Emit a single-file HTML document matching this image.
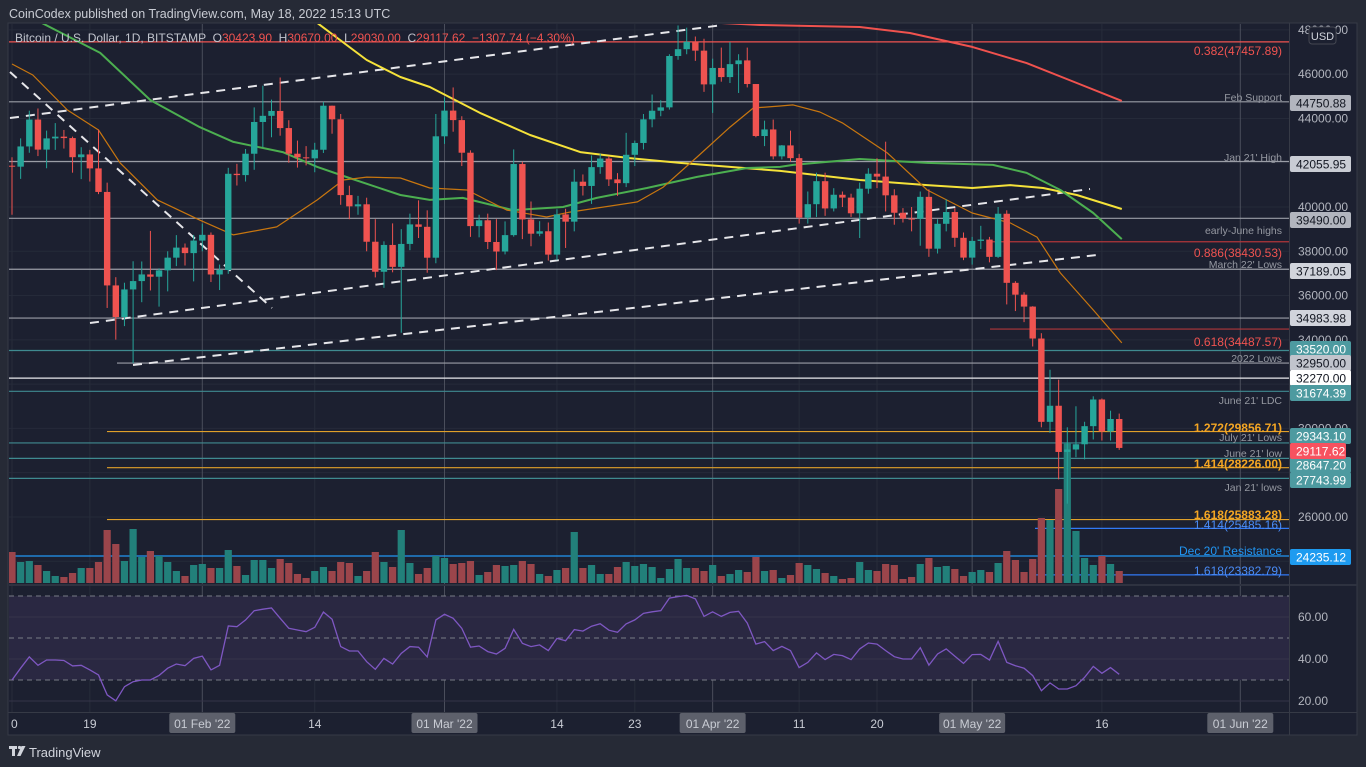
<!DOCTYPE html>
<html><head><meta charset="utf-8"><title>BTCUSD chart</title>
<style>
html,body{margin:0;padding:0;background:#262a36;width:1366px;height:767px;overflow:hidden;font-family:"Liberation Sans",sans-serif}
svg{display:block}
text{font-family:"Liberation Sans",sans-serif}
</style></head>
<body>
<svg id="chart" width="1366" height="767" viewBox="0 0 1366 767" xmlns="http://www.w3.org/2000/svg">
  <rect x="0" y="0" width="1366" height="767" fill="#262a36"/>
  <text x="9" y="18" font-size="12.5" fill="#c9ccd4">CoinCodex published on TradingView.com, May 18, 2022 15:13 UTC</text>
  <rect x="8" y="23" width="1349" height="712" fill="#1c2030" stroke="#363a46"/>
  <defs>
    <clipPath id="mainClip"><rect x="9" y="24" width="1280" height="560"/></clipPath>
    <clipPath id="rsiClip"><rect x="9" y="585" width="1280" height="127"/></clipPath>
  </defs>
  <g id="grid"></g>
  <g id="levels" clip-path="url(#mainClip)"></g>
  <g id="volume" clip-path="url(#mainClip)"></g>
  <g id="trend" clip-path="url(#mainClip)"></g>
  <g id="mas" clip-path="url(#mainClip)"></g>
  <g id="candles" clip-path="url(#mainClip)"></g>
  <g id="rsi" clip-path="url(#rsiClip)"></g>
  <g id="axis"></g>
  <g id="taxis"></g>
  <g font-size="12">
    <text x="15" y="42" fill="#c1c4cd" style="white-space:pre">Bitcoin / U.S. Dollar, 1D, BITSTAMP  O<tspan fill="#ef5350">30423.90</tspan>  H<tspan fill="#ef5350">30670.00</tspan>  L<tspan fill="#ef5350">29030.00</tspan>  C<tspan fill="#ef5350">29117.62</tspan>  <tspan fill="#ef5350">−1307.74 (−4.30%)</tspan></text>
  </g>
  <g>
    <rect x="9" y="746" width="8" height="3" fill="#d1d4dc"/><rect x="12" y="746" width="3" height="10" fill="#d1d4dc"/>
    <circle cx="19.5" cy="747.5" r="1.6" fill="#d1d4dc"/><polygon points="21.5,746 25.5,746 20.5,756 17,756" fill="#d1d4dc"/>
    <text x="29" y="757" font-size="13" fill="#d1d4dc">TradingView</text>
  </g>
  <g>
    <rect x="1309" y="27" width="27" height="17" rx="3" fill="#1c2030" stroke="#434651"/>
    <text x="1322.5" y="40" font-size="11" fill="#d1d4dc" text-anchor="middle">USD</text>
  </g>
</svg>
<script>
const opens=[41865,41822,42735,43950,42592,43099,43177,43113,42250,42375,41744,40680,36458,35030,36276,36654,36954,36852,37138,37712,38166,37917,38483,38743,36952,37154,41500,41441,42406,43840,44118,44338,43565,42407,42244,42197,42586,44575,43961,40538,40030,40122,38431,37075,38286,37296,38332,39214,39105,37710,43193,44354,43925,42452,39137,39400,38420,37989,38730,41941,39439,38794,38904,37849,39666,39338,41143,40951,41801,42190,41247,41077,42358,42892,43960,44348,44500,46820,47128,47465,47062,45538,46281,45868,46453,46622,45555,43206,43503,42287,42782,42207,39521,40127,41166,39935,40553,40424,39716,40826,41503,41374,40527,39740,39478,39469,40458,38117,39241,39773,38609,37714,38469,38529,37748,39695,36575,36040,35502,34059,30296,31023,28936,29047,29283,30101,31305,29862,30424];
const highs=[42248,43100,44350,44450,43450,43790,43480,43180,42700,42580,43500,41100,36830,36580,37550,37540,38920,37230,38000,38730,38350,38740,39250,38850,37400,41770,41950,42620,44500,45480,44850,45850,43920,43000,42750,42900,44750,44580,44200,40960,40500,40420,39450,38450,39260,39000,39700,40300,39850,44200,44950,45400,44100,42560,39650,39700,39450,39350,42600,42050,40250,39360,39300,39900,39920,41700,41470,42330,42400,42300,41530,43350,43000,44200,45080,44820,46900,48200,48100,47700,47600,46700,47200,47450,46900,47200,45550,43900,43950,42800,43450,42400,40700,41550,41550,40850,40700,40600,41100,41750,42200,42950,40800,39950,40000,40700,40800,39450,40350,39950,38850,38650,39150,38650,40000,39850,36650,36150,35520,34300,32650,32200,30050,31000,30300,31450,31350,30800,30670];
const lows=[39650,41270,42450,42300,41750,42580,42640,41550,41260,41150,40580,35440,34010,34620,32950,35700,36230,35500,36190,37330,37360,36640,38000,36610,36250,36980,40970,41150,41680,42700,43150,43220,42000,41780,41880,41570,42440,43310,40100,39450,39650,38000,36820,36350,37050,34320,38050,38600,37030,37460,42850,43400,41850,38650,38630,38100,37150,37860,38660,38550,38230,38680,37580,37600,38150,38900,40520,40140,41500,40950,40500,40900,41850,42600,43600,44100,44400,46650,46900,46600,45200,44250,45660,45600,45150,45400,43150,42750,42150,42150,42050,39250,39250,39550,39600,39800,40000,39550,38600,40600,40850,39800,39200,39300,38900,38250,37750,37900,38900,38200,37600,37400,38100,37500,37700,35600,35300,34800,33700,30050,29800,27700,26600,28700,28600,29500,29450,29450,29030];
const closes=[41822,42735,43950,42592,43099,43177,43113,42250,42375,41744,40680,36458,35030,36276,36654,36954,36852,37138,37712,38166,37917,38483,38743,36952,37154,41500,41441,42406,43840,44118,44338,43565,42407,42244,42197,42586,44575,43961,40538,40030,40122,38431,37075,38286,37296,38332,39214,39105,37710,43193,44354,43925,42452,39137,39400,38420,37989,38730,41941,39439,38794,38904,37849,39666,39338,41143,40951,41801,42190,41247,41077,42358,42892,43960,44348,44500,46820,47128,47465,47062,45538,46281,45868,46453,46622,45555,43206,43503,42287,42782,42207,39521,40127,41166,39935,40553,40424,39716,40826,41503,41374,40527,39740,39478,39469,40458,38117,39241,39773,38609,37714,38469,38529,37748,39695,36575,36040,35502,34059,30296,31023,28936,29047,29283,30101,31305,29862,30425,29118];
const volumes=[31,21,22,18,12,7,6,10,15,15,21,53,39,22,54,26,32,27,21,12,7,18,19,15,15,33,17,8,23,23,15,24,20,9,5,12,16,12,21,20,7,12,31,21,16,53,20,9,15,27,25,19,20,22,8,11,18,17,18,22,19,9,7,13,15,51,15,18,9,9,16,21,17,19,16,5,14,24,15,15,12,18,7,9,13,11,26,12,13,5,8,20,18,14,10,7,4,5,21,13,12,19,18,4,6,19,25,16,17,14,7,11,13,11,20,32,23,11,24,65,63,94,140,52,25,18,27,19,12];
const rsiValues=[30,35.6,41,37,39.5,39.5,39.3,36.7,37,34.8,32.4,22.9,20.1,26.8,29.2,30,30,32.2,35.6,37.6,36.8,40.3,41.4,34.8,37,55.7,55.4,58.6,63,63.7,64.3,59.4,54.6,53.8,53,55.1,62.4,58.9,45.9,43.8,43.8,38.7,35.1,40.3,37.6,42.7,45.9,45.6,41,58.6,61.3,59.4,54.6,45.6,46.2,43.5,42.4,45.1,54.1,47.5,45.9,46.7,44,49.8,48.7,54,53.3,55.6,56.8,53.7,52.7,56.7,58.6,61.7,62.5,63,69,69.7,70.3,68.6,60.3,62.5,60.3,62.2,62.7,57.1,47.1,48.3,44,46,44,35.9,38.4,42.9,39.7,42.2,41.6,39.7,44.8,47.6,47.1,44,41.1,40,40,45.4,37.1,42.4,44.8,41.3,37.9,42.1,42.2,39.5,48.4,38.4,36.8,35.6,32.1,24.9,28.6,25.7,25.7,27.3,31.3,36.5,33.2,35.9,32.7];
const ma20Days=[0,2.4,6.4,10,12.5,16.8,21.7,25.6,30.6,35.3,38.3,41,44.9,48.3,52.6,57.2,61.8,64.5,72.3,75.3,79.2,83,85.7,88.8,90.3,93.4,96,101.2,105.8,111,115.4,118.5,121.2,125,128.3];
const ma20Vals=[46460,45960,44380,43480,41990,40320,39410,38740,39100,40320,41220,41350,41310,40860,40770,39860,39550,39770,40230,40900,42260,43610,44470,44560,44610,44290,43800,42440,40770,39730,39280,38640,37020,35350,33860];
const ma50Days=[3,10.2,16,21.7,25.6,31.3,35.3,39,44.9,48.3,52.1,57.9,63.7,67.6,73.4,79.2,85,88.8,90.3,98,105.8,113.4,117.3,121.2,125,128.3];
const ma50Vals=[48400,46960,44830,43610,42940,42480,41810,41310,40540,40320,40410,39860,40000,40410,40860,41360,41760,41810,41900,42170,41990,41900,41540,40770,39730,38550];
const ma100Days=[33,35.3,41,44.9,48.3,54.1,59.9,65.7,71.4,77.2,83,88.8,98,105.8,111,115.4,119.2,123.1,128.3];
const ma100Vals=[48600,48310,46640,45870,45420,44250,43250,42480,42210,41990,41810,41630,41220,40990,40860,40990,40860,40540,39910];
const ma200Days=[66,80,86.5,98,103.8,111,117.3,123.1,128.3];
const ma200Vals=[48450,48350,48220,48130,47860,47230,46500,45600,44790];
const priceTicks=[24000,26000,28000,30000,32000,34000,36000,38000,40000,42000,44000,46000,48000];
const rsiTicks=[20,40,60];
const timeLabels=["10","19","01 Feb '22","14","01 Mar '22","14","23","01 Apr '22","11","20","01 May '22","16","01 Jun '22"];
const timeLabelDays=[0,9,22,35,50,63,72,81,91,100,111,126,142];

const NS='http://www.w3.org/2000/svg';
function X(i){return 12+i*8.65;}
function Y(p){return 207+(40000-p)*0.02214;}
function RY(v){return 680-(v-30)*2.1;}
function mk(parent,tag,attrs,txt){const e=document.createElementNS(NS,tag);for(const k in attrs)e.setAttribute(k,attrs[k]);if(txt!==undefined)e.textContent=txt;parent.appendChild(e);return e;}
const G=id=>document.getElementById(id);

const grid=G('grid');
priceTicks.forEach(p=>{const l=mk(grid,'line',{x1:9,x2:1289,y1:Y(p),y2:Y(p),stroke:'#252a39','stroke-width':1});

});
timeLabelDays.forEach((d,k)=>{const month=timeLabels[k].length>3;const l=mk(grid,'line',{x1:X(d),x2:X(d),y1:24,y2:712,stroke:month?'#4a4e5b':'#272c3a','stroke-width':1});

});
const sep=mk(grid,'line',{x1:9,x2:1357,y1:585,y2:585,stroke:'#2e3240','stroke-width':2});


const ab=mk(grid,'line',{x1:1289.5,x2:1289.5,y1:23,y2:735,stroke:'#363a46'});


const tb=mk(grid,'line',{x1:8,x2:1357,y1:712.5,y2:712.5,stroke:'#363a46'});



const axis=G('axis');
priceTicks.forEach(p=>{const t=mk(axis,'text',{x:1298,y:Y(p)+4,'font-size':12,fill:'#b2b5be'},p.toFixed(2));

});
rsiTicks.forEach(v=>{const t=mk(axis,'text',{x:1298,y:RY(v)+4,'font-size':12,fill:'#b2b5be'},v.toFixed(2));

});

const lv=G('levels');
const levels=[
 {p:47457.89,c:'#f05350',x0:9,label:'0.382(47457.89)',lc:'#f05350',ly:51,box:null},
 {p:44750.88,c:'#9a9da6',x0:9,label:'Feb Support',lc:'#9598a1',ly:97,box:'#b2b5be',bt:'#131722',by:103},
 {p:42055.95,c:'#9a9da6',x0:9,label:"Jan 21' High",lc:'#9598a1',ly:157,box:'#c9ccd4',bt:'#131722',by:164},
 {p:39490,c:'#9a9da6',x0:9,label:'early-June highs',lc:'#9598a1',ly:230,box:'#b2b5be',bt:'#131722',by:220},
 {p:38430.53,c:'#b0363a',x0:990,label:'0.886(38430.53)',lc:'#f05350',ly:253,box:null},
 {p:37189.05,c:'#9a9da6',x0:9,label:"March 22' Lows",lc:'#9598a1',ly:264,box:'#d1d4dc',bt:'#131722',by:271},
 {p:34983.98,c:'#9a9da6',x0:9,label:'',box:'#d1d4dc',bt:'#131722',by:318},
 {p:34487.57,c:'#b0363a',x0:990,label:'0.618(34487.57)',lc:'#f05350',ly:342,box:null},
 {p:33520,c:'#3f8a90',x0:9,label:'',box:'#4d9aa0',bt:'#ffffff',by:349},
 {p:32950,c:'#9a9da6',x0:117,label:'2022 Lows',lc:'#9598a1',ly:358,box:'#c1c4cc',bt:'#131722',by:363},
 {p:32270,c:'#e8e8ec',x0:9,label:'',box:'#ffffff',bt:'#131722',by:378},
 {p:31674.39,c:'#3f8a90',x0:9,label:"June 21' LDC",lc:'#9598a1',ly:400,box:'#4d9aa0',bt:'#ffffff',by:393},
 {p:29856.71,c:'#e0a02a',x0:107,label:'1.272(29856.71)',lc:'#f5a623',ly:428,box:null,bold:true},
 {p:29343.1,c:'#3f8a90',x0:9,label:"July 21' Lows",lc:'#9598a1',ly:437,box:'#4d9aa0',bt:'#ffffff',by:436},
 {p:28647.2,c:'#3f8a90',x0:9,label:"June 21' low",lc:'#9598a1',ly:453,box:'#4d9aa0',bt:'#ffffff',by:465},
 {p:28226,c:'#e0a02a',x0:107,label:'1.414(28226.00)',lc:'#f5a623',ly:464,box:null,bold:true},
 {p:27743.99,c:'#3f8a90',x0:9,label:"Jan 21' lows",lc:'#9598a1',ly:487,box:'#4d9aa0',bt:'#ffffff',by:480},
 {p:25883.28,c:'#e0a02a',x0:107,label:'1.618(25883.28)',lc:'#f5a623',ly:515,box:null,bold:true},
 {p:25485.16,c:'#3179f5',x0:1035,label:'1.414(25485.16)',lc:'#4a8cf7',ly:525,box:null},
 {p:24235.12,c:'#2196f3',x0:9,label:"Dec 20' Resistance",lc:'#2196f3',ly:551,box:'#1e9bf0',bt:'#ffffff',by:557},
 {p:23382.79,c:'#3179f5',x0:1035,label:'1.618(23382.79)',lc:'#4a8cf7',ly:571,box:null}
];
levels.forEach(L=>{
 const l=mk(lv,'line',{x1:L.x0,x2:1289,y1:Y(L.p),y2:Y(L.p),stroke:L.c,'stroke-width':1.2});
 
 
 if(L.label){const grey=L.lc==='#9598a1';const t=mk(axis,'text',{x:1282,y:L.ly+4,'font-size':grey?10.5:12,'font-weight':L.bold?'bold':'normal',fill:L.lc,'text-anchor':'end'},L.label);
 
 }
});
levels.forEach(L=>{ if(!L.box) return;
 const r=mk(axis,'rect',{x:1290,y:L.by-8,width:61,height:16,rx:2,fill:L.box});
 
 
 const t=mk(axis,'text',{x:1296,y:L.by+4.5,'font-size':12,fill:L.bt},L.p.toFixed(2));
 
 
});
const lpr=mk(axis,'rect',{x:1290,y:443,width:56,height:16,rx:2,fill:'#f7525f'});


const lpt=mk(axis,'text',{x:1296,y:455.5,'font-size':12,fill:'#ffffff'},'29117.62');



const vg=G('volume');
volumes.forEach((v,i)=>{const up=closes[i]>=opens[i];
 const r=mk(vg,'rect',{x:X(i)-3.6,y:583-v,width:7.2,height:v,fill:up?'#22807a':'#9b454b'});
 
 });

const tg=G('trend');
[[10,118,723,25],[90,323,1090,189],[133,365,1097,255],[10,72,272,308]].forEach(s=>{
 const l=mk(tg,'line',{x1:s[0],y1:s[1],x2:s[2],y2:s[3],stroke:'#e6e6ea','stroke-width':2,'stroke-dasharray':'9,7'});
 
 });

const mg=G('mas');
function maLine(days,vals,color,w,name){let d='';days.forEach((dd,k)=>{d+=(k?'L':'M')+X(dd).toFixed(1)+','+Y(vals[k]).toFixed(1);});
 const p=mk(mg,'path',{d:d,fill:'none',stroke:color,'stroke-width':w,'stroke-linejoin':'round'});
 
 }
maLine(ma200Days,ma200Vals,'#f0524e',2,'ma-200-line');
maLine(ma100Days,ma100Vals,'#f5e23a',2,'ma-100-line');
maLine(ma50Days,ma50Vals,'#4caf50',2,'ma-50-line');
maLine(ma20Days,ma20Vals,'#c8760f',1.2,'ma-20-line');

const cg=G('candles');
opens.forEach((o,i)=>{const c=closes[i];const up=c>=o;const col=up?'#26a69a':'#ef5350';
 const w=mk(cg,'line',{x1:X(i),x2:X(i),y1:Y(highs[i]),y2:Y(lows[i]),stroke:col,'stroke-width':1});
 
 
 const top=Y(Math.max(o,c)),bot=Y(Math.min(o,c));
 const b=mk(cg,'rect',{x:X(i)-3.2,y:top,width:6.4,height:Math.max(1,bot-top),fill:col});
 
 });

const rg=G('rsi');
const band=mk(rg,'rect',{x:9,y:RY(70),width:1280,height:RY(30)-RY(70),fill:'#2a2842'});


rsiTicks.forEach(v=>{const l=mk(rg,'line',{x1:9,x2:1289,y1:RY(v),y2:RY(v),stroke:'#353449'});
 
 });
[70,50,30].forEach(v=>{const l=mk(rg,'line',{x1:9,x2:1289,y1:RY(v),y2:RY(v),stroke:'#787b86','stroke-dasharray':'5,4'});
 
 });
let rd='';rsiValues.forEach((v,i)=>{rd+=(i?'L':'M')+X(i).toFixed(1)+','+RY(v).toFixed(1);});
const rl=mk(rg,'path',{d:rd,fill:'none',stroke:'#7e57c2','stroke-width':1.3});



const ta=G('taxis');
timeLabels.forEach((t,k)=>{const x=X(timeLabelDays[k]);const month=t.length>3;
 if(month){const r=mk(ta,'rect',{x:x-33,y:713,width:66,height:20,rx:2,fill:'#5d606b'});
  
  }
 const tx=mk(ta,'text',{x:k===0?x-1:x,y:728,'font-size':12,fill:'#c9ccd4','text-anchor':k===0?'start':'middle'},k===0?'0':t);
 
 });
</script>
</body></html>
